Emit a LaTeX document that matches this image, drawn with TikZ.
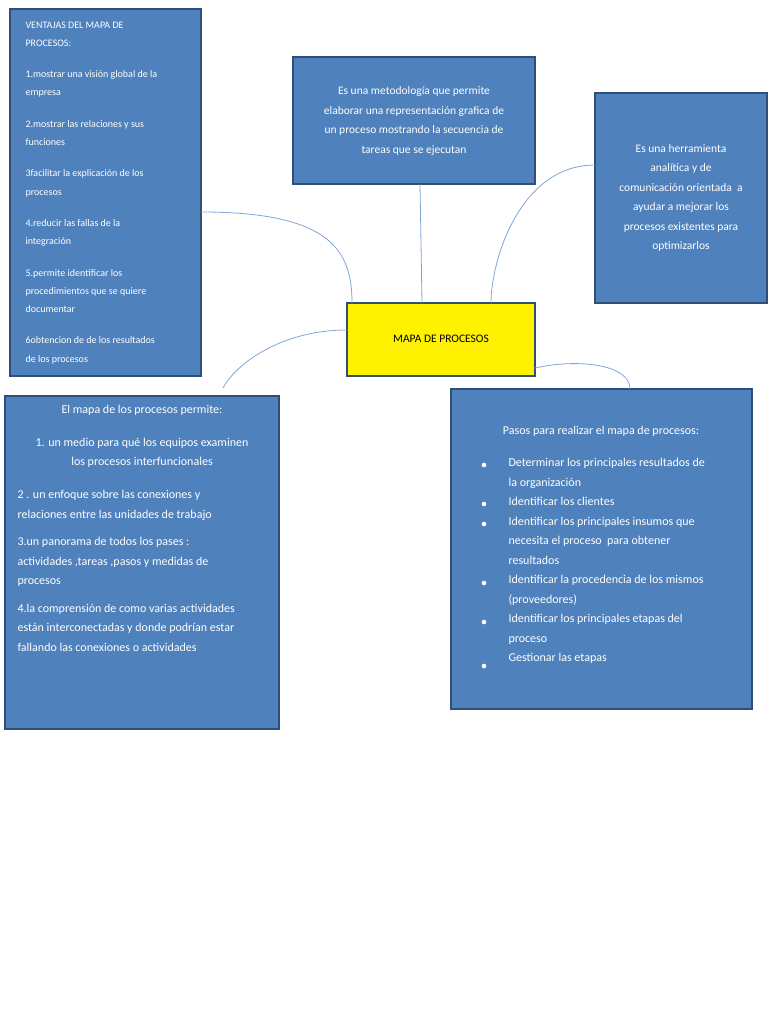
\documentclass[tikz,border=0pt]{standalone}
\usepackage{fontspec}
\setmainfont{Carlito}
\begin{document}
\begin{tikzpicture}[x=1pt,y=-1pt,
 bx/.style={draw=blue!30!black!70!cyan!60!white,line width=1.6pt,fill=boxblue,text=white,inner sep=0pt},
 con/.style={draw=linkblue,line width=0.8pt}]
\definecolor{boxblue}{HTML}{4F81BD}
\definecolor{linkblue}{HTML}{7FA6D6}
\definecolor{edge}{HTML}{2F4F78}
\tikzset{bx/.style={draw=edge,line width=1.6pt,fill=boxblue,text=white,inner sep=0pt}}
\useasboundingbox (0,0) rectangle (768,1024);
% boxes
\draw[bx] (10,9) rectangle (201,376) coordinate (vB);
\coordinate (vR) at (201,212);
\draw[bx] (293,57) rectangle (535,184);
\coordinate (mB) at (420,184);
\draw[bx] (595,93) rectangle (767,303);
\coordinate (hL) at (595,165);
\draw[draw=edge,line width=1.6pt,fill=yellow] (347,303) rectangle (535,376);
\coordinate (cTL) at (352,303); \coordinate (cT) at (422,303); \coordinate (cTR) at (491,303);
\coordinate (cL) at (347,330); \coordinate (cR) at (535,368);
\draw[bx] (5,396) rectangle (279,729);
\coordinate (eT) at (223,388);
\draw[bx] (451,389) rectangle (752,709);
\coordinate (pT) at (630,389);
% connectors
\draw[con] (vR) .. controls (330,212) and (352,250) .. (cTL);
\draw[con] (mB) -- (cT);
\draw[con] (hL) .. controls (520,165) and (491,260) .. (cTR);
\draw[con] (cL) .. controls (280,330) and (235,365) .. (eT);
\draw[con] (cR) .. controls (580,358) and (630,365) .. (pT);
% texts
\node (vt) [anchor=north west,text=white,font=\fontsize{10}{18.3}\selectfont,align=left] at (22,18) {VENTAJAS DEL MAPA DE\\PROCESOS:\\[13pt]1.mostrar una visión global de la\\empresa\\[13pt]2.mostrar las relaciones y sus\\funciones\\[13pt]3facilitar la explicación de los\\procesos\\[13pt]4.reducir las fallas de la\\integración\\[13pt]5.permite identificar los\\procedimientos que se quiere\\documentar\\[13pt]6obtencion de de los resultados\\de los procesos};
\node (mt) [text=white,font=\fontsize{11.5}{19.5}\selectfont,align=center] at (414,121) {Es una metodología que permite\\elaborar una representación grafica de\\un proceso mostrando la secuencia de\\tareas que se ejecutan};
\node (ht) [text=white,font=\fontsize{11.5}{19.5}\selectfont,align=center] at (681,198) {Es una herramienta\\analítica y de\\comunicación orientada\ \ a\\ayudar a mejorar los\\procesos existentes para\\optimizarlos};
\node (ct) [font=\fontsize{11.5}{14}\selectfont] at (441,339) {MAPA DE PROCESOS};
\node (et0) [text=white,font=\fontsize{12}{19.5}\selectfont] at (142,410) {El mapa de los procesos permite:};
\node (et1) [text=white,font=\fontsize{12}{19.5}\selectfont,align=center] at (142,453) {1. un medio para qué los equipos examinen\\los procesos interfuncionales};
\node (et2) [anchor=north west,text=white,font=\fontsize{12}{19.5}\selectfont,align=left] at (14,487) {2 . un enfoque sobre las conexiones y\\relaciones entre las unidades de trabajo\\[8pt]3.un panorama de todos los pases :\\actividades ,tareas ,pasos y medidas de\\procesos\\[8pt]4.la comprensión de como varias actividades\\están interconectadas y donde podrían estar\\fallando las conexiones o actividades};
\node (pt) [text=white,font=\fontsize{12}{19.5}\selectfont] at (601,431) {Pasos para realizar el mapa de procesos:};
\node (pl) [anchor=north west,text=white,font=\fontsize{12}{19.5}\selectfont,align=left] at (505,455) {Determinar los principales resultados de\\la organización\\Identificar los clientes\\Identificar los principales insumos que\\necesita el proceso\ \ para obtener\\resultados\\Identificar la procedencia de los mismos\\(proveedores)\\Identificar los principales etapas del\\proceso\\Gestionar las etapas};
\foreach \y in {465,504,524,583,622,666} \fill[white] (484,\y) circle (2.3);
\end{tikzpicture}
\end{document}
